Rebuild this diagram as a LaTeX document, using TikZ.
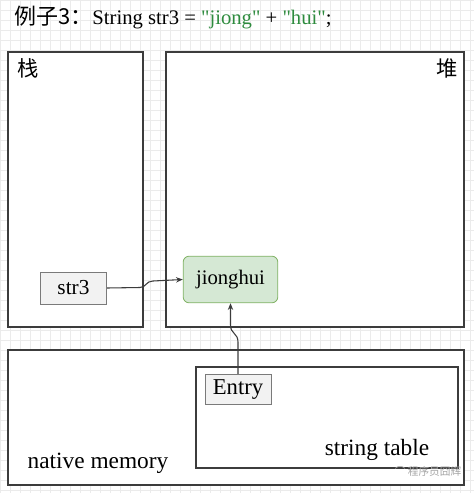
\documentclass[tikz,border=0pt]{standalone}
\usepackage{fontspec}
\setmainfont{Liberation Serif}
\newfontfamily\plainserif{Liberation Serif}
\newfontfamily\cjk{Noto Sans CJK SC}
\usetikzlibrary{arrows.meta}
\definecolor{gridgray}{HTML}{EBEBEB}
\definecolor{linegray}{HTML}{3C3C3C}
\definecolor{boxfill}{HTML}{F2F2F2}
\definecolor{boxline}{HTML}{7A7A7A}
\definecolor{heapfill}{HTML}{D5E8D4}
\definecolor{heapline}{HTML}{82B366}
\definecolor{codegreen}{HTML}{2E8B3E}

\begin{document}
\begin{tikzpicture}[x=0.75pt,y=-0.75pt]
		\useasboundingbox (0,0) rectangle (474,493);
		\fill[white] (0,0) rectangle (474,493);
		\foreach \x in {0,10,...,470}{
			\draw[gridgray,line width=0.4pt] (\x,0) -- (\x,493);
		}
		\foreach \y in {0,10,...,490}{
			\draw[gridgray,line width=0.4pt] (0,\y) -- (474,\y);
		}
		\tikzstyle{frame}=[draw=linegray,line width=1pt,fill=white,inner sep=0pt]
		\tikzstyle{cell}=[draw=boxline,fill=boxfill,line width=0.6pt,inner sep=0pt]
		\tikzstyle{link}=[draw=linegray,line width=0.8pt,-{Stealth[length=5pt,width=4pt]}]
		% title
		\node[anchor=west,inner sep=0pt] (title) at (14,17) {\fontsize{15.5pt}{18pt}\selectfont{\cjk\fontsize{16.5pt}{18pt}\selectfont 例子3：}\plainserif String str3 = \textcolor{codegreen}{"jiong"} + \textcolor{codegreen}{"hui"};};
		% stack and heap
		\node[frame,minimum width=101.25pt,minimum height=206.25pt] (stack) at (75.5,189.5) {};
		\node[frame,minimum width=223.5pt,minimum height=206.25pt] (heap) at (315,189.5) {};
		\node[inner sep=0pt] (stacklabel) at (28,68) {\fontsize{16pt}{18pt}\cjk 栈};
		\node[inner sep=0pt] (heaplabel) at (447,68) {\fontsize{16pt}{18pt}\cjk 堆};
		% native memory
		\node[frame,minimum width=342pt,minimum height=101.25pt] (native) at (236,417.5) {};
		\node[frame,minimum width=196.5pt,minimum height=75.75pt] (table) at (327,417.5) {};
		\node[inner sep=0pt] (nativelabel) at (98,463) {\fontsize{17.5pt}{20pt}\selectfont native memory};
		\node[inner sep=0pt] (tablelabel) at (377,450) {\fontsize{17.5pt}{20pt}\selectfont string table};
		\node[inner sep=0pt,text=black!35] (mark) at (428,471) {\fontsize{8pt}{9pt}\cjk ⌒ 程序员囧辉};
		% objects
		\node[cell,minimum width=50pt,minimum height=24pt] (str3) at (73.5,288) {\fontsize{16pt}{18pt}\selectfont str3};
		\node[draw=heapline,fill=heapfill,line width=0.6pt,rounded corners=4.5pt,minimum width=71pt,minimum height=35pt,inner sep=0pt] (jionghui) at (230.5,279.5) {\fontsize{15.5pt}{18pt}\selectfont jionghui};
		\node[cell,minimum width=49.5pt,minimum height=23pt] (entry) at (238,389.5) {\fontsize{17pt}{19pt}\selectfont Entry};
		% references
		\draw[link] (str3.east) -- (140,287.5) .. controls (146,287.5) and (146,281) .. (153,281) -- (jionghui.west);
		\draw[link] (entry.north) -- (238,342) .. controls (238,333) and (230.5,334) .. (230.5,325) -- (jionghui.south);
	\end{tikzpicture}
\end{document}
